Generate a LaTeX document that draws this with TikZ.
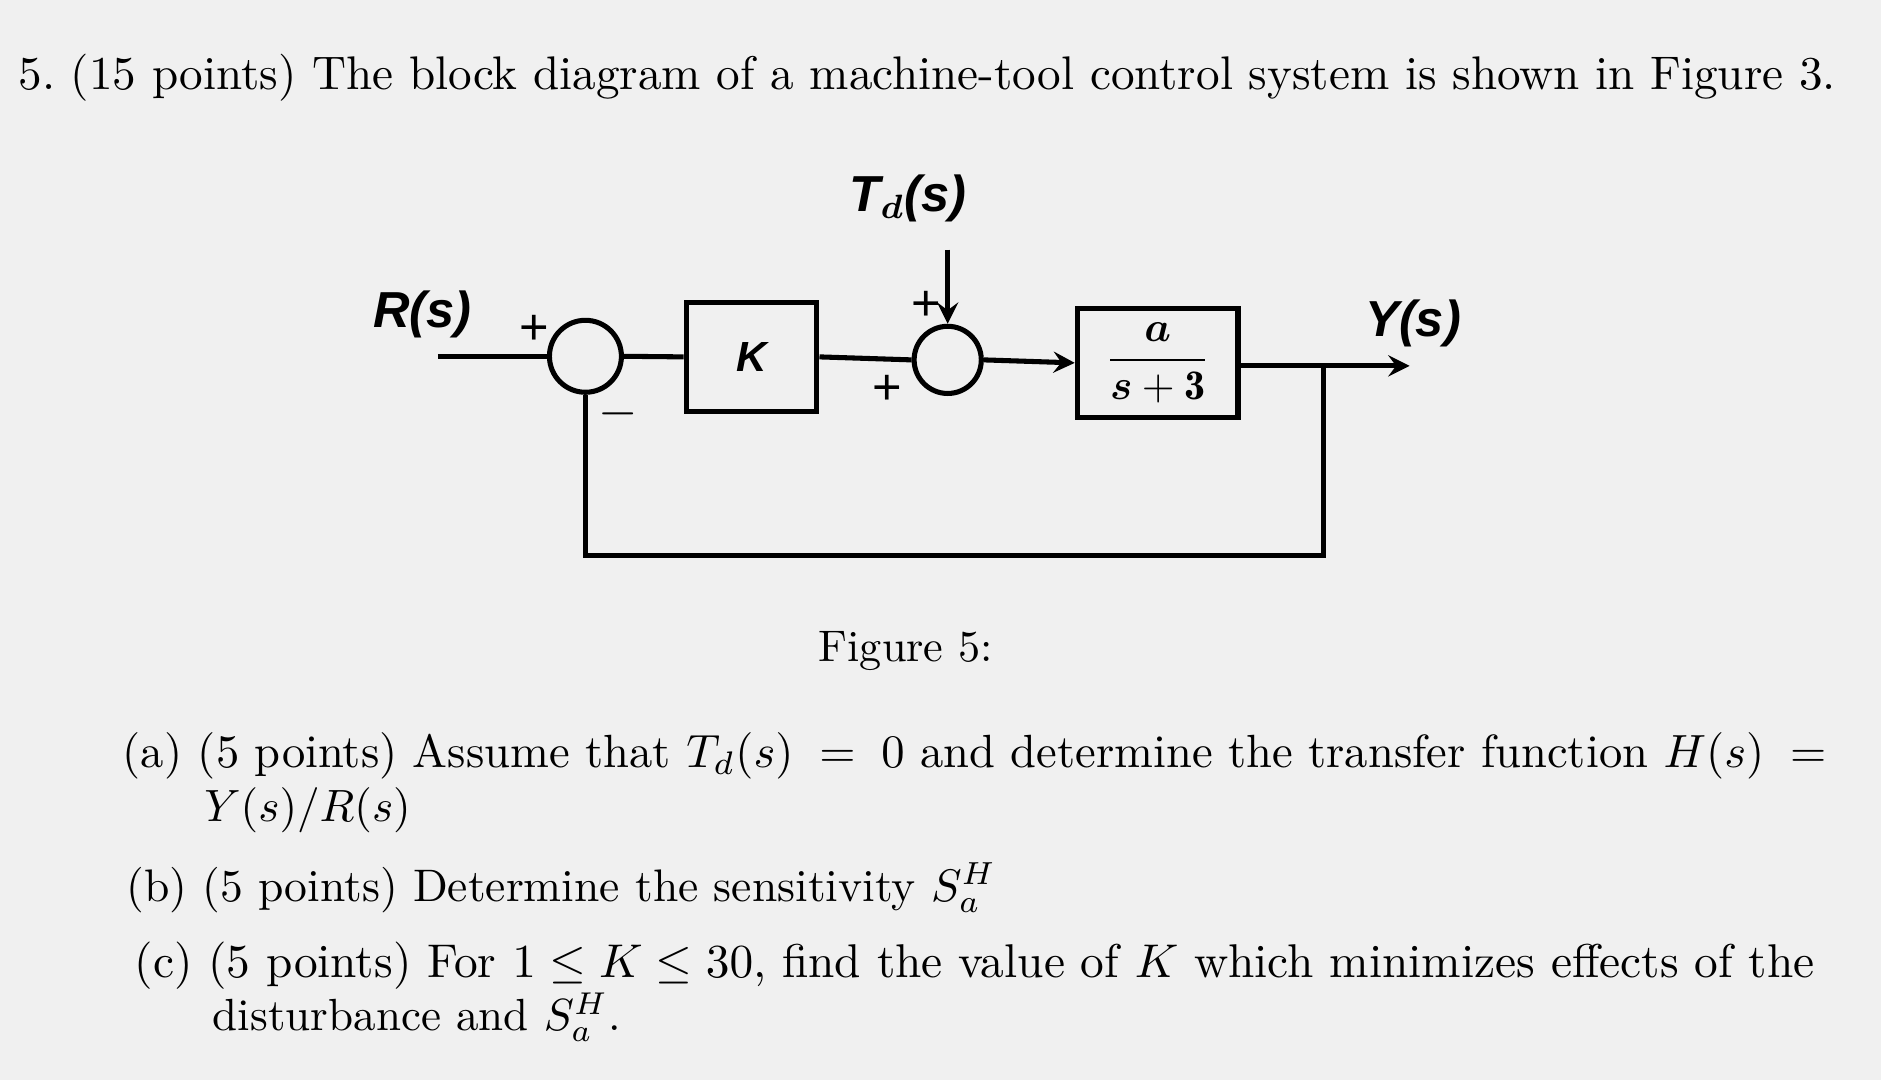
\documentclass[tikz,border=0pt]{standalone}
\usepackage{fontspec}
\usepackage{amsmath}
\newfontfamily\dfont{Liberation Sans}
\begin{document}
\begin{tikzpicture}[x=1cm,y=1cm,
  blk/.style={draw,line width=1.2pt,minimum width=1.09cm,minimum height=0.91cm,inner sep=0pt},
  sumc/.style={draw,circle,line width=1.2pt,minimum size=0.58cm,inner sep=0pt},
  ln/.style={line width=1.2pt},
  lab/.style={font=\dfont\bfseries\itshape\large},
  sgn/.style={font=\dfont\large}]
\fill[gray!12] (0,0) rectangle (15.68,9);
\useasboundingbox (0,0) rectangle (15.68,9);
\node[anchor=west] (title) at (0.03,8.35) {\resizebox{15.15cm}{!}{5.\ (15 points) The block diagram of a machine-tool control system is shown in Figure 3.}};
\node[lab] (td) at (7.57,7.35) {T$_{\boldsymbol d}$(s)};
\node[lab] (rs) at (3.52,6.38) {R(s)};
\node[lab] (ys) at (11.78,6.3) {Y(s)};
\node[sumc,minimum size=0.6cm] (s1) at (4.88,6.03) {};
\node[blk] (k) at (6.265,6.025) {\dfont\bfseries\itshape K};
\node[sumc,minimum size=0.56cm] (s2) at (7.90,6.0) {};
\node[blk,minimum width=1.34cm] (g) at (9.65,5.975) {$\dfrac{\boldsymbol a}{\boldsymbol s+\mathbf 3}$};
\coordinate (in) at (3.65,6.03);
\coordinate (tdt) at (7.90,6.92);
\coordinate (yo) at (11.75,5.95);
\coordinate (br) at (11.03,5.95);
\coordinate (bb) at (11.03,4.37);
\coordinate (bl) at (4.88,4.37);
\draw[ln] (in) -- (s1.west);
\draw[ln] (s1.east) -- (k.west);
\draw[ln] (k.east) -- (s2.west);
\draw[ln,-stealth] (s2.east) -- (g.west);
\draw[ln,-stealth] (tdt) -- (s2.north);
\draw[ln,-stealth] (g.east|-yo) -- (yo);
\draw[ln] (br) -- (bb) -- (bl) -- (s1.south);
\node[sgn] at (4.45,6.25) {+};
\node[sgn] at (5.15,5.55) {$-$};
\node[sgn] at (7.72,6.45) {+};
\node[sgn] at (7.40,5.75) {+};
\node (fig) at (7.55,3.57) {\resizebox{1.45cm}{!}{Figure 5:}};
\node[anchor=west] (pa) at (0.9,2.70) {\resizebox{14.2cm}{!}{(a) (5 points) Assume that $T_d(s)\;=\;0$ and determine the transfer function $H(s)\;=$}};
\node[anchor=west] (pa2) at (1.58,2.25) {\resizebox{1.72cm}{!}{$Y(s)/R(s)$}};
\node[anchor=west] (pb) at (0.93,1.60) {\resizebox{7.25cm}{!}{(b) (5 points) Determine the sensitivity $S_a^H$}};
\node[anchor=west] (pc) at (1.0,0.95) {\resizebox{14.0cm}{!}{(c) (5 points) For $1\le K\le 30$, find the value of $K$ which minimizes effects of the}};
\node[anchor=west] (pc2) at (1.65,0.52) {\resizebox{3.4cm}{!}{disturbance and $S_a^H$.}};
\end{tikzpicture}
\end{document}
